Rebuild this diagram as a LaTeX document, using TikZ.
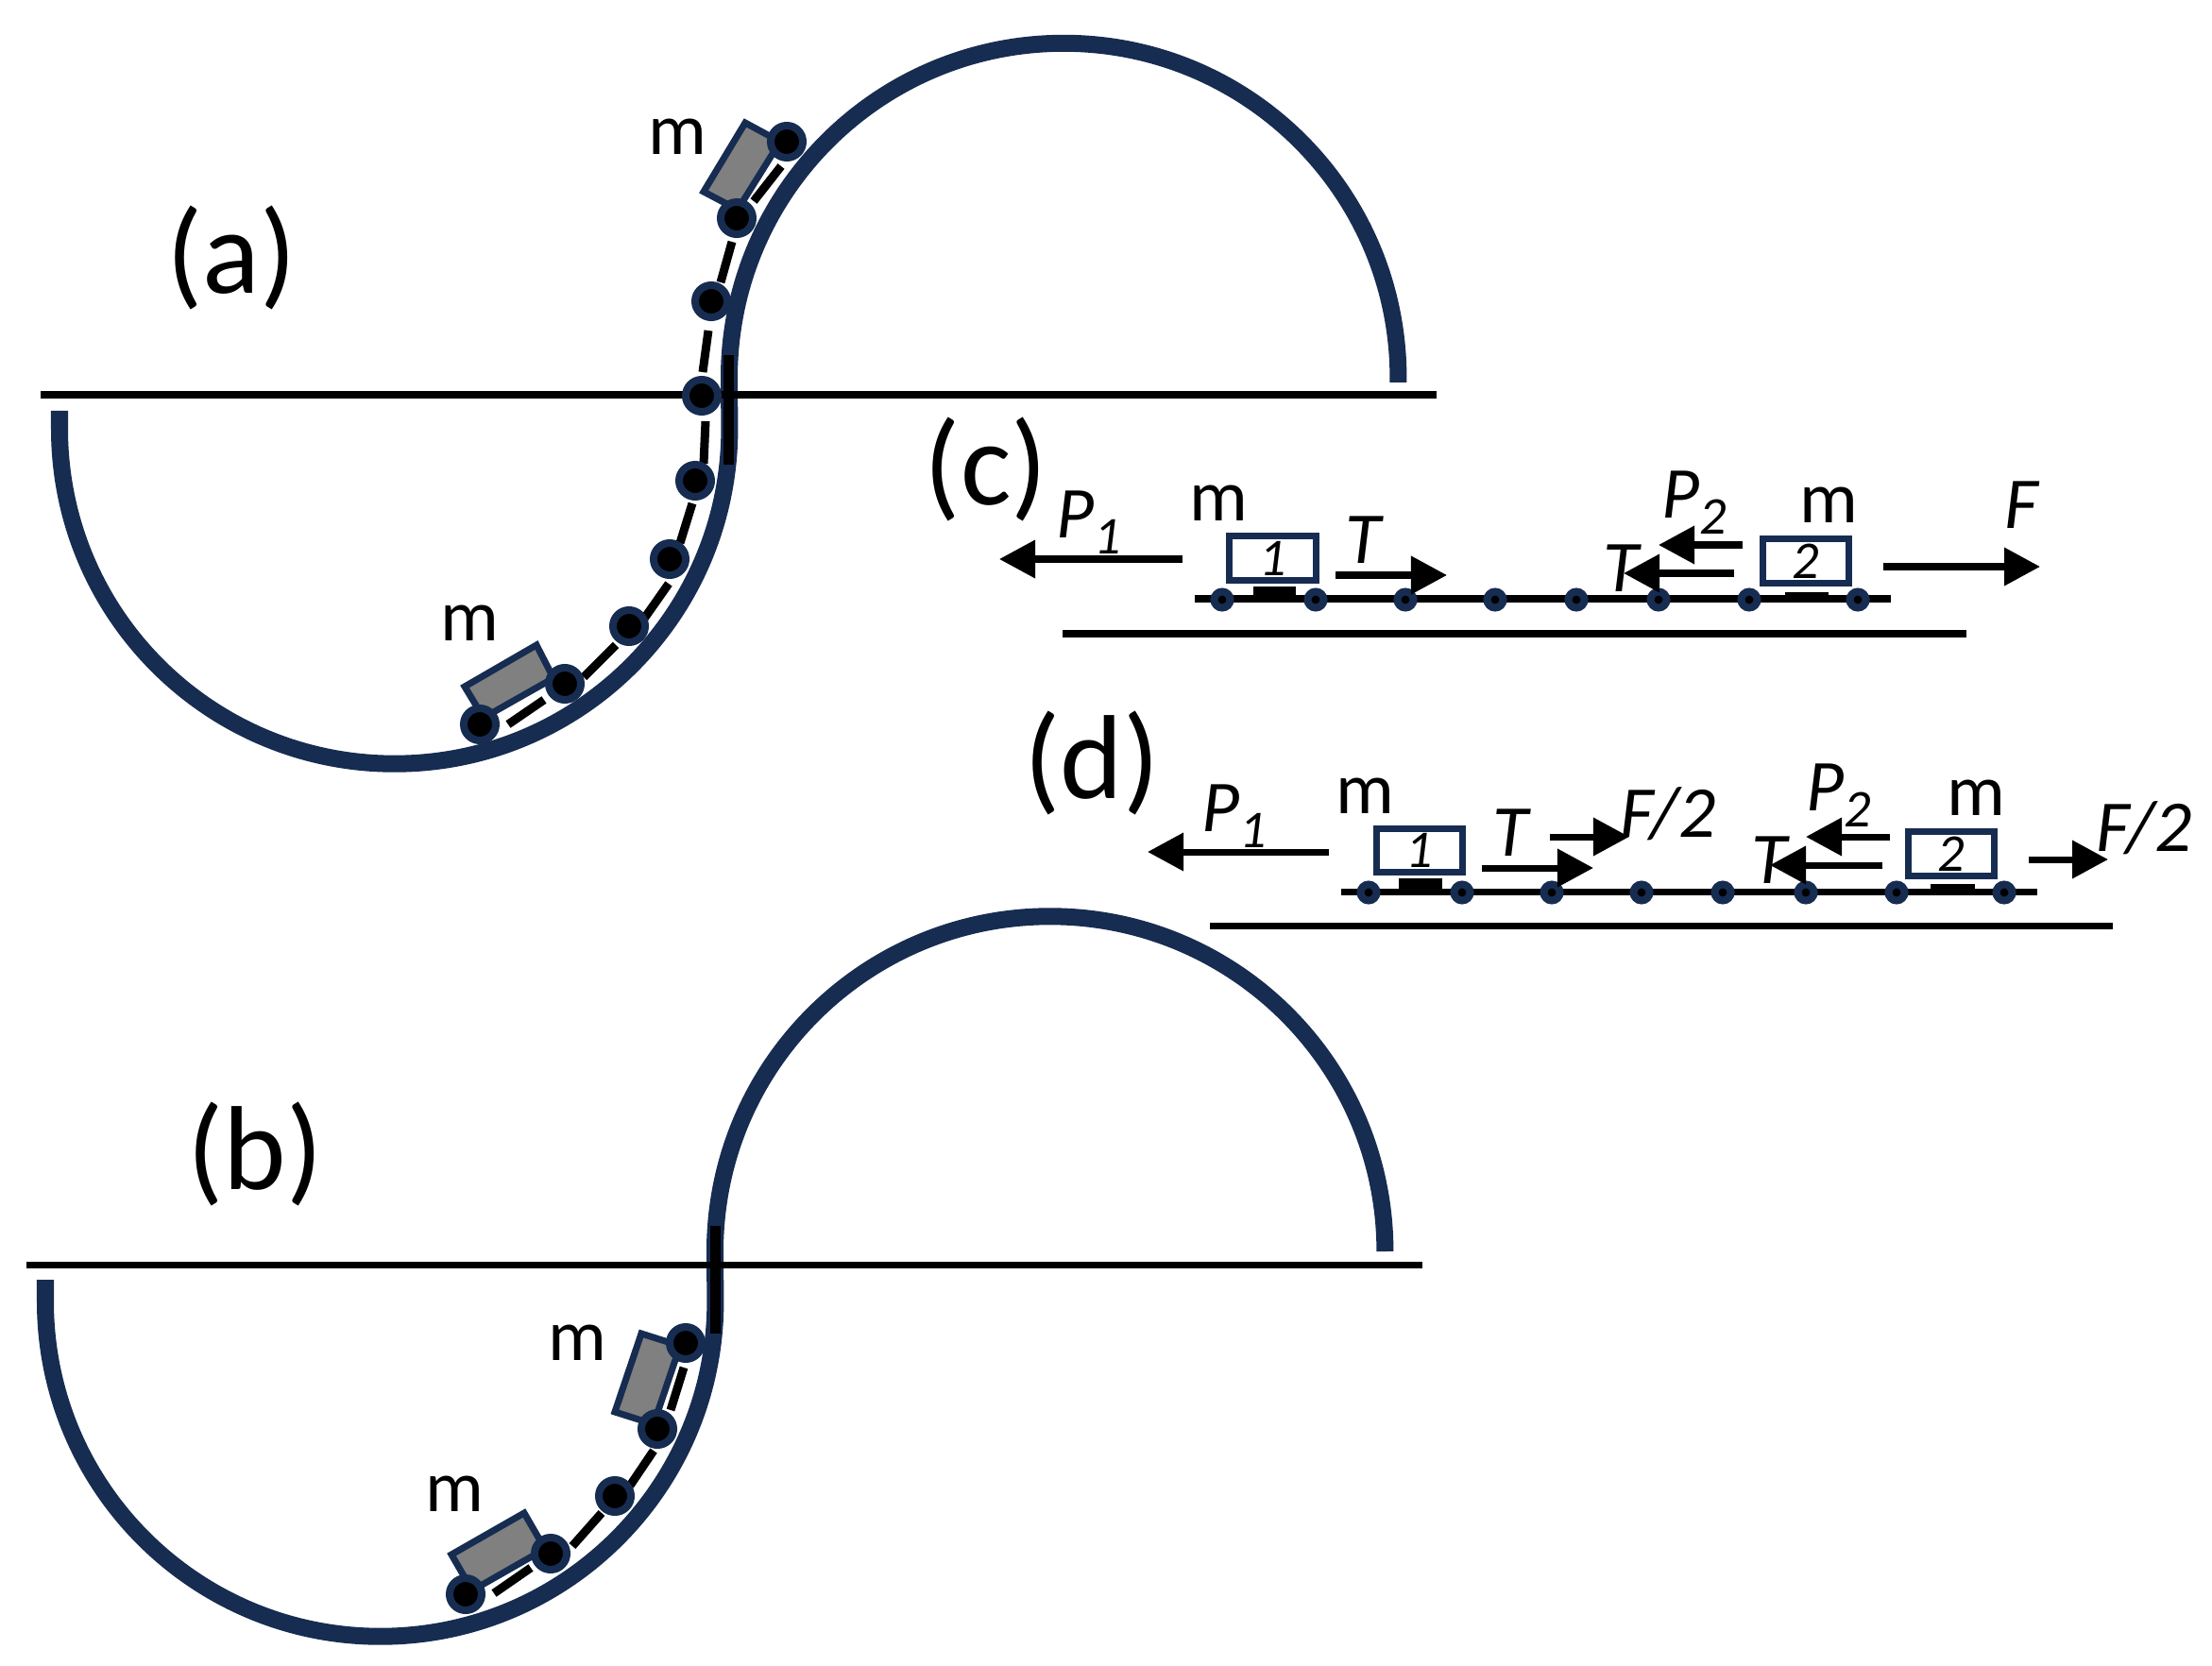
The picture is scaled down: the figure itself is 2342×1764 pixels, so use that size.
\documentclass[tikz,border=0pt]{standalone}
\usepackage{fontspec}
\setmainfont{Carlito}
\usetikzlibrary{arrows.meta}
\definecolor{trackblue}{HTML}{172C51}
\newcommand{\subforce}[2]{#1\raisebox{-4.8pt}{\fontsize{16}{16}\selectfont #2}}
\tikzset{
  track/.style={draw=trackblue,line width=0.18cm,line join=round},
  base/.style={draw=black,line width=0.07cm},
  strip/.style={draw=black,line width=0.11cm},
  tie/.style={draw=black,line width=0.09cm},
  body/.style={draw=trackblue,fill=gray,line width=0.07cm},
  wheel/.style={circle,draw=trackblue,fill=black,line width=0.08cm,minimum size=0.34cm,inner sep=0pt},
  pin/.style={circle,draw=trackblue,fill=black,line width=0.08cm,minimum size=0.17cm,inner sep=0pt},
  cart/.style={draw=trackblue,fill=white,line width=0.07cm,minimum width=0.91cm,minimum height=0.46cm,inner sep=0pt,font=\fontsize{16}{16}\selectfont\itshape},
  force/.style={draw=black,line width=0.07cm,-{Triangle[length=0.38cm,width=0.39cm]}},
  panel/.style={inner sep=0pt,font=\fontsize{36}{36}\selectfont},
  mass/.style={inner sep=0pt,font=\fontsize{22}{22}\selectfont},
  flabel/.style={inner sep=0pt,font=\fontsize{22}{22}\selectfont\itshape},
}
\begin{document}
\begin{tikzpicture}[x=0.01cm,y=-0.01cm]
   \useasboundingbox (0,0) rectangle (2342,1764);
   % tracks of (a) and (b)
   \draw[track] (63,435) -- (63,454) arc[start angle=180,end angle=360,radius=3.545cm]
      -- (772,400) arc[start angle=180,end angle=0,radius=3.54cm] -- ++(0,5);
   \draw[track] (48,1355) -- (48,1378) arc[start angle=180,end angle=360,radius=3.545cm]
      -- (757,1325) arc[start angle=180,end angle=0,radius=3.545cm];
   \coordinate (ga1) at (43,418);
   \coordinate (ga2) at (1521,418);
   \coordinate (gb1) at (28,1339);
   \coordinate (gb2) at (1506,1339);
   \draw[base] (ga1) -- (ga2);
   \draw[base] (gb1) -- (gb2);
   \coordinate (sa1) at (771,376);
   \coordinate (sa2) at (771,492);
   \coordinate (sb1) at (757,1298);
   \coordinate (sb2) at (757,1412);
   \draw[strip] (sa1) -- (sa2);
   \draw[strip] (sb1) -- (sb2);
   % dashes under the cars
   \foreach \n/\xa/\ya/\xb/\yb in {1/827/176/798/213,2/775/256/763/299,3/750/350/744/394,4/747/446/745/491,
      5/733/533/720/575,6/708/618/682/655,7/652/683/618/717,8/576/741/538/767,
      9/724/1448/710/1493,10/692/1536/667/1573,11/637/1602/606/1637,12/562/1660/523/1687}{
      \coordinate (da\n) at (\xa,\ya);
      \coordinate (db\n) at (\xb,\yb);
      \draw[tie] (da\n) -- (db\n);
   }
   % cars
   \draw[body] (789,130) -- (826,150) -- (781,222) -- (745,203) -- cycle;
   \draw[body] (568,683) -- (492,727) -- (512,760) -- (586,718) -- cycle;
   \draw[body] (679,1412) -- (720,1425) -- (692,1508) -- (651,1495) -- cycle;
   \draw[body] (555,1602) -- (478,1646) -- (500,1684) -- (577,1640) -- cycle;
   \foreach \n/\x/\y in {1/833/150,2/780/231,3/753/319,4/743/419,5/736/509,6/709/592,7/666/663,8/598/724,9/508/767}
      \node[wheel] (wa\n) at (\x,\y) {};
   \foreach \n/\x/\y in {1/726/1422,2/696/1513,3/651/1584,4/583/1645,5/493/1688}
      \node[wheel] (wb\n) at (\x,\y) {};
   \node[panel] (la) at (245,273) {(a)};
   \node[panel] (lb) at (270,1222) {(b)};
   \node[mass] (ma1) at (717,145) {m};
   \node[mass] (ma2) at (497,660) {m};
   \node[mass] (mb1) at (611,1422) {m};
   \node[mass] (mb2) at (481,1582) {m};
   % panel (c)
   \node[panel] (lc) at (1044,497) {(c)};
   \coordinate (gc1) at (1125,671);
   \coordinate (gc2) at (2082,671);
   \coordinate (rc1) at (1265,634);
   \coordinate (rc2) at (2002,634);
   \draw[base] (gc1) -- (gc2);
   \draw[base] (rc1) -- (rc2);
   \fill (1327,621) rectangle (1372,632);
   \fill (1890,627) rectangle (1936,632);
   \foreach \n/\x in {1/1294,2/1393,3/1488,4/1583,5/1669,6/1756,7/1852,8/1967}
      \node[pin] (pc\n) at (\x,635) {};
   \node[cart] (cc1) at (1347.5,591) {1};
   \node[cart] (cc2) at (1912,594) {2};
   \foreach \n/\xa/\ya/\xb/\yb in {1/1252/592/1058/592,2/1414/609/1532/609,3/1845/577/1756/577,4/1836/607/1719/607,5/1994/600/2160/600}{
      \coordinate (fca\n) at (\xa,\ya);
      \coordinate (fcb\n) at (\xb,\yb);
      \draw[force] (fca\n) -- (fcb\n);
   }
   \node[flabel] (pc1l) at (1153,553) {\subforce{P}{1}};
   \node[flabel] (tc1) at (1443,572) {T};
   \node[flabel] (tc2) at (1716,602) {T};
   \node[flabel] (pc2l) at (1794,532) {\subforce{P}{2}};
   \node[flabel] (fc) at (2140,535) {F};
   \node[mass] (mc1) at (1290,533) {m};
   \node[mass] (mc2) at (1936,535) {m};
   % panel (d)
   \node[panel] (ld) at (1156,808) {(d)};
   \coordinate (gd1) at (1281,980);
   \coordinate (gd2) at (2237,980);
   \coordinate (rd1) at (1420,944);
   \coordinate (rd2) at (2157,944);
   \draw[base] (gd1) -- (gd2);
   \draw[base] (rd1) -- (rd2);
   \fill (1481,930) rectangle (1527,941);
   \fill (2044,936) rectangle (2091,941);
   \foreach \n/\x in {1/1449,2/1548,3/1643,4/1738,5/1824,6/1912,7/2008,8/2122}
      \node[pin] (pd\n) at (\x,945) {};
   \node[cart] (cd1) at (1503,900.5) {1};
   \node[cart] (cd2) at (2066,904) {2};
   \foreach \n/\xa/\ya/\xb/\yb in {1/1407/902/1215/902,2/1569/919/1687/919,3/1641/886/1725/886,4/2001/886/1912/886,5/1993/916/1874/916,6/2148/910/2232/910}{
      \coordinate (fda\n) at (\xa,\ya);
      \coordinate (fdb\n) at (\xb,\yb);
      \draw[force] (fda\n) -- (fdb\n);
   }
   \node[flabel] (pd1l) at (1307,864) {\subforce{P}{1}};
   \node[flabel] (td1) at (1599,882) {T};
   \node[flabel] (fd1) at (1766,862) {F/2};
   \node[flabel] (td2) at (1873,911) {T};
   \node[flabel] (pd2l) at (1947,842) {\subforce{P}{2}};
   \node[flabel] (fd2) at (2270,877) {F/2};
   \node[mass] (md1) at (1445,843) {m};
   \node[mass] (md2) at (2092,845) {m};
\end{tikzpicture}
\end{document}
